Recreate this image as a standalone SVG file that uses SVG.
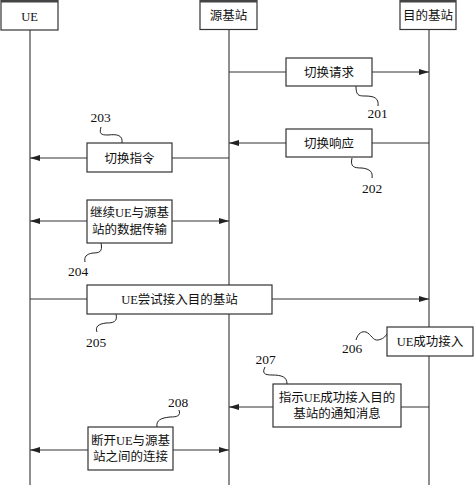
<svg xmlns="http://www.w3.org/2000/svg" width="474" height="485" viewBox="0 0 474 485">
<style>
.bg{fill:#fff}
.box{fill:#fff;stroke:#333;stroke-width:1.2}
.life{stroke:#333;stroke-width:1.1;fill:none}
.msg{stroke:#333;stroke-width:1;fill:none}
.sq{stroke:#222;stroke-width:1;fill:none}
.t{font-family:"Liberation Serif","Noto Sans CJK SC",serif;font-size:12.5px;fill:#111;text-anchor:middle}
.n{font-family:"Liberation Serif",serif;font-size:13.5px;fill:#111;text-anchor:middle}
.top{stroke:#444;stroke-width:3}
</style>
<defs>
<marker id="ah" viewBox="0 0 10 6" refX="10" refY="3" markerWidth="10" markerHeight="6" markerUnits="userSpaceOnUse" orient="auto-start-reverse">
<path d="M0,0 L10,3 L0,6 Z" fill="#222"/>
</marker>
</defs>
<rect class="bg" x="0" y="0" width="474" height="485"/>
<g id="lifelines">
<line class="life" x1="30" y1="30" x2="30" y2="485"/>
<line class="life" x1="229" y1="30" x2="229" y2="485"/>
<line class="life" x1="429" y1="30" x2="429" y2="485"/>
</g>
<g id="connectors">
<line class="msg" x1="229" y1="72" x2="429" y2="72" marker-end="url(#ah)"/>
<line class="msg" x1="429" y1="143" x2="229" y2="143" marker-end="url(#ah)"/>
<line class="msg" x1="229" y1="158" x2="30" y2="158" marker-end="url(#ah)"/>
<line class="msg" x1="30" y1="221" x2="229" y2="221" marker-start="url(#ah)" marker-end="url(#ah)"/>
<line class="msg" x1="30" y1="299" x2="429" y2="299" marker-end="url(#ah)"/>
<line class="msg" x1="429" y1="407" x2="229" y2="407" marker-end="url(#ah)"/>
<line class="msg" x1="30" y1="450" x2="229" y2="450" marker-start="url(#ah)" marker-end="url(#ah)"/>
<path class="sq" d="M356,86 C356,95 358,96 365,96 C374,96 379,98 378,106"/>
<path class="sq" d="M352,158 C350,167 354,168 362,168 C370,169 373,172 372,178"/>
<path class="sq" d="M101,127 C99,134 101,135 108,135 C117,134 123,135 122,143"/>
<path class="sq" d="M101,243 C103,252 99,253 93,253 C86,254 84,257 85,262"/>
<path class="sq" d="M116,314 C118,322 113,323 106,323 C98,324 95,327 97,332"/>
<path class="sq" d="M356,340 C358,333 362,331 366,332 C371,334 373,341 378,340 C383,339 385,337 387,334"/>
<path class="sq" d="M265,367 C262,373 264,375 272,375 C282,375 287,377 287,384"/>
<path class="sq" d="M179,410 C181,416 177,417 170,417 C161,418 156,420 157,427"/>
</g>
<g id="ue">
<rect class="box" x="1" y="0.5" width="57" height="29.5"/>
<line class="top" x1="1" y1="1" x2="58" y2="1"/>
<text class="t" x="29.5" y="21" font-size="14">UE</text>
</g>
<g id="source">
<rect class="box" x="200" y="0.5" width="57" height="29"/>
<line class="top" x1="200" y1="1" x2="257" y2="1"/>
<text class="t" x="228.5" y="20">源基站</text>
</g>
<g id="target">
<rect class="box" x="400" y="0.5" width="56" height="29"/>
<line class="top" x1="400" y1="1" x2="456" y2="1"/>
<text class="t" x="428" y="20">目的基站</text>
</g>
<g id="m201">
<rect class="box" x="286" y="58" width="86" height="28"/>
<text class="t" x="329" y="76.5">切换请求</text>
<text class="n" x="377.5" y="118">201</text>
</g>
<g id="m202">
<rect class="box" x="286" y="129" width="86" height="28"/>
<text class="t" x="329" y="147.5">切换响应</text>
<text class="n" x="372" y="193">202</text>
</g>
<g id="m203">
<rect class="box" x="87" y="143" width="85" height="29"/>
<text class="t" x="129.5" y="162.5">切换指令</text>
<text class="n" x="100.5" y="122">203</text>
</g>
<g id="m204">
<rect class="box" x="87" y="200" width="85" height="43"/>
<text class="t" x="129.5" y="217">继续UE与源基</text>
<text class="t" x="129.5" y="234">站的数据传输</text>
<text class="n" x="78" y="276">204</text>
</g>
<g id="m205">
<rect class="box" x="87" y="285" width="185" height="29"/>
<text class="t" x="179.5" y="304">UE尝试接入目的基站</text>
<text class="n" x="96" y="347">205</text>
</g>
<g id="m206">
<rect class="box" x="387" y="327" width="86" height="29"/>
<text class="t" x="430" y="346">UE成功接入</text>
<text class="n" x="352" y="353">206</text>
</g>
<g id="m207">
<rect class="box" x="273" y="384" width="128" height="43"/>
<text class="t" x="337" y="402">指示UE成功接入目的</text>
<text class="t" x="337" y="418">基站的通知消息</text>
<text class="n" x="265.5" y="364">207</text>
</g>
<g id="m208">
<rect class="box" x="88" y="427" width="85" height="43"/>
<text class="t" x="130.5" y="445">断开UE与源基</text>
<text class="t" x="130.5" y="461">站之间的连接</text>
<text class="n" x="178" y="407">208</text>
</g>
</svg>
